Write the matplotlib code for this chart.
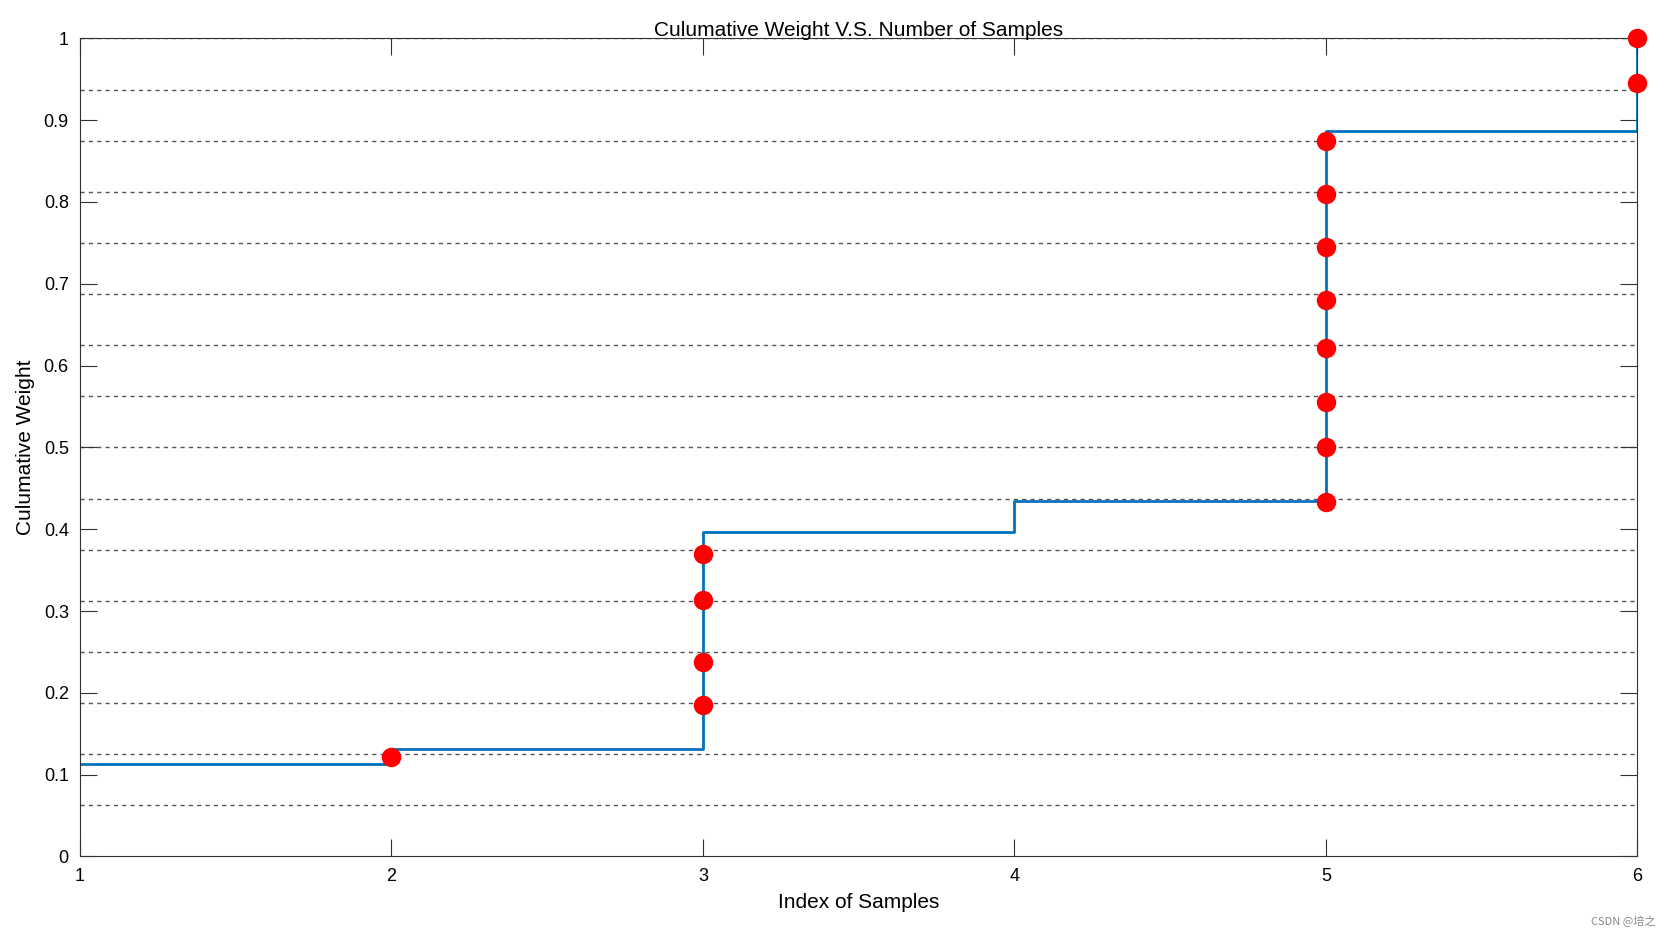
import matplotlib
matplotlib.use("Agg")
import matplotlib.pyplot as plt
import numpy as np

plt.rcParams['font.family'] = ['Arial', 'Liberation Sans', 'DejaVu Sans']

step_x = [1, 2, 3, 4, 5, 6]
step_y = [0.113, 0.131, 0.397, 0.435, 0.887, 1.0]
pt_x = [2, 3, 3, 3, 3, 5, 5, 5, 5, 5, 5, 5, 5, 6, 6]
pt_y = [0.122, 0.185, 0.238, 0.313, 0.370, 0.433, 0.500, 0.556, 0.621, 0.680,
        0.745, 0.810, 0.874, 0.945, 1.0]
grid_levels = [k / 16 for k in range(1, 17)]

fig = plt.figure(figsize=(16.64, 9.36), dpi=100)
ax = fig.add_axes([0.048, 0.085, 0.936, 0.874])
for g in grid_levels:
    ax.axhline(g, color='#555555', ls=(0, (3, 3)), lw=1.0, zorder=1)
ax.plot(step_x, step_y, drawstyle='steps-post', color='#0072BD', lw=2, zorder=2)
ax.plot(pt_x, pt_y, 'o', color='red', ms=13, zorder=3, clip_on=False)
ax.set_xlim(1, 6)
ax.set_ylim(0, 1)
ax.set_xticks([1, 2, 3, 4, 5, 6])
ax.set_yticks(np.round(np.arange(0, 1.01, 0.1), 1))
ax.set_yticklabels(['0', '0.1', '0.2', '0.3', '0.4', '0.5', '0.6', '0.7', '0.8', '0.9', '1'])
ax.tick_params(direction='in', top=True, right=True, length=12, pad=8, labelsize=13, color='#333333')
for s in ax.spines.values():
    s.set_color('#333333')
ax.set_xlabel('Index of Samples', fontsize=15, labelpad=6)
ax.set_ylabel('Culumative Weight', fontsize=15, labelpad=6)
ax.set_title('Culumative Weight V.S. Number of Samples', fontsize=15, pad=2)
fig.text(0.995, 0.01, 'CSDN @培之', ha='right', va='bottom', fontsize=8, color='#888888',
         family=['Noto Sans CJK SC', 'DejaVu Sans'])
fig.savefig('out.png', dpi=100)
